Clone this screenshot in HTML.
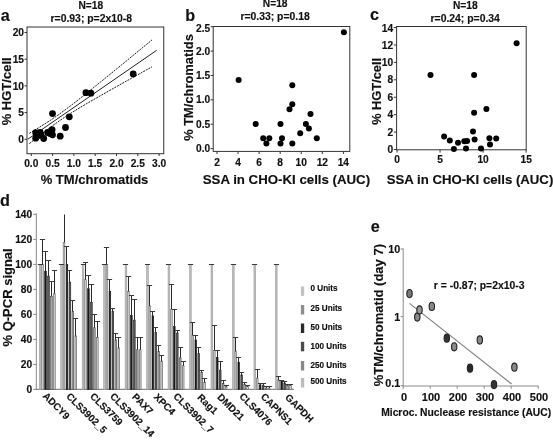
<!DOCTYPE html>
<html><head><meta charset="utf-8"><title>Figure</title>
<style>html,body{margin:0;padding:0;background:#fff;}svg{display:block;}text{font-family:"Liberation Sans",sans-serif;font-weight:bold;fill:#111;stroke:#111;stroke-width:0.15px;}</style></head><body>
<svg width="553" height="440" viewBox="0 0 553 440">
<rect width="553" height="440" fill="#fff"/>
<g id="panel-a">
<text x="0.80" y="20.70" font-size="16.2" text-anchor="start" >a</text>
<text x="90.80" y="8.60" font-size="10.2" text-anchor="middle" >N=18</text>
<text x="91.30" y="21.60" font-size="10.4" text-anchor="middle" >r=0.93; p=2x10-8</text>
<rect x="27" y="27" width="136.75" height="126.7" fill="none" stroke="#333" stroke-width="1"/>
<line x1="24.50" y1="139.30" x2="27.00" y2="139.30" stroke="#333" stroke-width="1" />
<text x="24.00" y="142.90" font-size="10.2" text-anchor="end" >0</text>
<line x1="24.50" y1="112.60" x2="27.00" y2="112.60" stroke="#333" stroke-width="1" />
<text x="24.00" y="116.20" font-size="10.2" text-anchor="end" >5</text>
<line x1="24.50" y1="85.90" x2="27.00" y2="85.90" stroke="#333" stroke-width="1" />
<text x="24.00" y="89.50" font-size="10.2" text-anchor="end" >10</text>
<line x1="24.50" y1="59.20" x2="27.00" y2="59.20" stroke="#333" stroke-width="1" />
<text x="24.00" y="62.80" font-size="10.2" text-anchor="end" >15</text>
<line x1="24.50" y1="32.50" x2="27.00" y2="32.50" stroke="#333" stroke-width="1" />
<text x="24.00" y="36.10" font-size="10.2" text-anchor="end" >20</text>
<line x1="31.30" y1="153.70" x2="31.30" y2="156.00" stroke="#333" stroke-width="1" />
<text x="31.30" y="166.50" font-size="10.2" text-anchor="middle" >0.0</text>
<line x1="52.60" y1="153.70" x2="52.60" y2="156.00" stroke="#333" stroke-width="1" />
<text x="52.60" y="166.50" font-size="10.2" text-anchor="middle" >0.5</text>
<line x1="73.90" y1="153.70" x2="73.90" y2="156.00" stroke="#333" stroke-width="1" />
<text x="73.90" y="166.50" font-size="10.2" text-anchor="middle" >1.0</text>
<line x1="95.20" y1="153.70" x2="95.20" y2="156.00" stroke="#333" stroke-width="1" />
<text x="95.20" y="166.50" font-size="10.2" text-anchor="middle" >1.5</text>
<line x1="116.50" y1="153.70" x2="116.50" y2="156.00" stroke="#333" stroke-width="1" />
<text x="116.50" y="166.50" font-size="10.2" text-anchor="middle" >2.0</text>
<line x1="137.80" y1="153.70" x2="137.80" y2="156.00" stroke="#333" stroke-width="1" />
<text x="137.80" y="166.50" font-size="10.2" text-anchor="middle" >2.5</text>
<line x1="159.10" y1="153.70" x2="159.10" y2="156.00" stroke="#333" stroke-width="1" />
<text x="159.10" y="166.50" font-size="10.2" text-anchor="middle" >3.0</text>
<text x="94.50" y="184.30" font-size="13" text-anchor="middle" >% TM/chromatids</text>
<text transform="translate(11.20,91.35) rotate(-90)" font-size="13" text-anchor="middle" >% HGT/cell</text>
<line x1="28.00" y1="139.08" x2="156.60" y2="50.35" stroke="#222" stroke-width="1" />
<polyline points="29.30,133.38 34.41,130.33 39.52,127.21 44.64,124.01 49.75,120.70 54.86,117.24 59.98,113.65 65.09,109.92 70.20,106.07 75.31,102.13 80.42,98.13 85.54,94.07 90.65,89.99 95.76,85.87 100.88,81.74 105.99,77.59 111.10,73.43 116.21,69.26 121.32,65.08 126.44,60.90 131.55,56.71 136.66,52.52 141.78,48.32 146.89,44.12 152.00,39.92" fill="none" stroke="#1a1a1a" stroke-width="1" stroke-dasharray="2 1"/>
<polyline points="29.30,143.66 34.41,139.59 39.52,135.57 44.64,131.62 49.75,127.76 54.86,124.02 59.98,120.42 65.09,116.96 70.20,113.65 75.31,110.45 80.42,107.35 85.54,104.31 90.65,101.33 95.76,98.38 100.88,95.45 105.99,92.55 111.10,89.66 116.21,86.79 121.32,83.92 126.44,81.06 131.55,78.21 136.66,75.36 141.78,72.52 146.89,69.68 152.00,66.84" fill="none" stroke="#1a1a1a" stroke-width="1" stroke-dasharray="2 1"/>
<circle cx="35.70" cy="132.70" r="3.4" fill="#000"/>
<circle cx="35.70" cy="138.20" r="3.4" fill="#000"/>
<circle cx="40.20" cy="132.50" r="3.4" fill="#000"/>
<circle cx="43.70" cy="138.50" r="3.4" fill="#000"/>
<circle cx="38.20" cy="135.50" r="3.4" fill="#000"/>
<circle cx="47.70" cy="132.50" r="3.4" fill="#000"/>
<circle cx="52.50" cy="113.60" r="3.4" fill="#000"/>
<circle cx="52.10" cy="129.70" r="3.4" fill="#000"/>
<circle cx="52.50" cy="134.80" r="3.4" fill="#000"/>
<circle cx="60.20" cy="136.20" r="3.4" fill="#000"/>
<circle cx="65.50" cy="127.50" r="3.4" fill="#000"/>
<circle cx="69.30" cy="116.80" r="3.4" fill="#000"/>
<circle cx="85.90" cy="92.70" r="3.4" fill="#000"/>
<circle cx="90.90" cy="93.20" r="3.4" fill="#000"/>
<circle cx="133.20" cy="73.90" r="3.4" fill="#000"/>
<circle cx="37.00" cy="134.00" r="3.4" fill="#000"/>
<circle cx="50.00" cy="133.50" r="3.4" fill="#000"/>
<circle cx="41.00" cy="135.00" r="3.4" fill="#000"/>
</g>
<g id="panel-b">
<text x="185.20" y="20.60" font-size="16.2" text-anchor="start" >b</text>
<text x="275.15" y="7.40" font-size="10.2" text-anchor="middle" >N=18</text>
<text x="275.10" y="20.40" font-size="10.4" text-anchor="middle" >r=0.33; p=0.18</text>
<rect x="213.2" y="26.5" width="136.6" height="124.9" fill="none" stroke="#333" stroke-width="1"/>
<line x1="210.60" y1="148.60" x2="213.20" y2="148.60" stroke="#333" stroke-width="1" />
<text x="210.20" y="152.20" font-size="10.2" text-anchor="end" >0.0</text>
<line x1="210.60" y1="124.22" x2="213.20" y2="124.22" stroke="#333" stroke-width="1" />
<text x="210.20" y="127.82" font-size="10.2" text-anchor="end" >0.5</text>
<line x1="210.60" y1="99.85" x2="213.20" y2="99.85" stroke="#333" stroke-width="1" />
<text x="210.20" y="103.45" font-size="10.2" text-anchor="end" >1.0</text>
<line x1="210.60" y1="75.47" x2="213.20" y2="75.47" stroke="#333" stroke-width="1" />
<text x="210.20" y="79.07" font-size="10.2" text-anchor="end" >1.5</text>
<line x1="210.60" y1="51.10" x2="213.20" y2="51.10" stroke="#333" stroke-width="1" />
<text x="210.20" y="54.70" font-size="10.2" text-anchor="end" >2.0</text>
<line x1="210.60" y1="26.72" x2="213.20" y2="26.72" stroke="#333" stroke-width="1" />
<text x="210.20" y="31.82" font-size="10.2" text-anchor="end" >2.5</text>
<line x1="217.00" y1="151.40" x2="217.00" y2="154.00" stroke="#333" stroke-width="1" />
<text x="217.00" y="166.00" font-size="10.2" text-anchor="middle" >2</text>
<line x1="238.06" y1="151.40" x2="238.06" y2="154.00" stroke="#333" stroke-width="1" />
<text x="238.06" y="166.00" font-size="10.2" text-anchor="middle" >4</text>
<line x1="259.12" y1="151.40" x2="259.12" y2="154.00" stroke="#333" stroke-width="1" />
<text x="259.12" y="166.00" font-size="10.2" text-anchor="middle" >6</text>
<line x1="280.18" y1="151.40" x2="280.18" y2="154.00" stroke="#333" stroke-width="1" />
<text x="280.18" y="166.00" font-size="10.2" text-anchor="middle" >8</text>
<line x1="301.24" y1="151.40" x2="301.24" y2="154.00" stroke="#333" stroke-width="1" />
<text x="301.24" y="166.00" font-size="10.2" text-anchor="middle" >10</text>
<line x1="322.30" y1="151.40" x2="322.30" y2="154.00" stroke="#333" stroke-width="1" />
<text x="322.30" y="166.00" font-size="10.2" text-anchor="middle" >12</text>
<line x1="343.36" y1="151.40" x2="343.36" y2="154.00" stroke="#333" stroke-width="1" />
<text x="343.36" y="166.00" font-size="10.2" text-anchor="middle" >14</text>
<text x="286.40" y="184.30" font-size="13.25" text-anchor="middle" >SSA in CHO-KI cells (AUC)</text>
<text transform="translate(192.80,87.50) rotate(-90)" font-size="12.9" text-anchor="middle" >% TM/chromatids</text>
<circle cx="238.60" cy="80.00" r="3.0" fill="#000"/>
<circle cx="255.70" cy="124.10" r="3.0" fill="#000"/>
<circle cx="263.20" cy="138.20" r="3.0" fill="#000"/>
<circle cx="269.30" cy="138.20" r="3.0" fill="#000"/>
<circle cx="266.40" cy="143.40" r="3.0" fill="#000"/>
<circle cx="343.90" cy="32.30" r="3.0" fill="#000"/>
<circle cx="292.30" cy="85.20" r="3.0" fill="#000"/>
<circle cx="292.30" cy="104.30" r="3.0" fill="#000"/>
<circle cx="289.50" cy="109.30" r="3.0" fill="#000"/>
<circle cx="310.50" cy="113.90" r="3.0" fill="#000"/>
<circle cx="280.50" cy="124.10" r="3.0" fill="#000"/>
<circle cx="305.90" cy="124.10" r="3.0" fill="#000"/>
<circle cx="308.90" cy="128.60" r="3.0" fill="#000"/>
<circle cx="300.20" cy="133.20" r="3.0" fill="#000"/>
<circle cx="282.00" cy="138.20" r="3.0" fill="#000"/>
<circle cx="316.80" cy="138.20" r="3.0" fill="#000"/>
<circle cx="280.50" cy="143.40" r="3.0" fill="#000"/>
<circle cx="292.30" cy="143.40" r="3.0" fill="#000"/>
</g>
<g id="panel-c">
<text x="370.00" y="20.20" font-size="16.2" text-anchor="start" >c</text>
<text x="465.30" y="8.60" font-size="10.2" text-anchor="middle" >N=18</text>
<text x="465.20" y="21.60" font-size="10.4" text-anchor="middle" >r=0.24; p=0.34</text>
<rect x="396.6" y="26.5" width="129.6" height="123.3" fill="none" stroke="#333" stroke-width="1"/>
<line x1="393.80" y1="149.50" x2="396.60" y2="149.50" stroke="#333" stroke-width="1" />
<text x="393.20" y="153.10" font-size="10.2" text-anchor="end" >0</text>
<line x1="393.80" y1="132.08" x2="396.60" y2="132.08" stroke="#333" stroke-width="1" />
<text x="393.20" y="135.68" font-size="10.2" text-anchor="end" >2</text>
<line x1="393.80" y1="114.66" x2="396.60" y2="114.66" stroke="#333" stroke-width="1" />
<text x="393.20" y="118.26" font-size="10.2" text-anchor="end" >4</text>
<line x1="393.80" y1="97.24" x2="396.60" y2="97.24" stroke="#333" stroke-width="1" />
<text x="393.20" y="100.84" font-size="10.2" text-anchor="end" >6</text>
<line x1="393.80" y1="79.82" x2="396.60" y2="79.82" stroke="#333" stroke-width="1" />
<text x="393.20" y="83.42" font-size="10.2" text-anchor="end" >8</text>
<line x1="393.80" y1="62.40" x2="396.60" y2="62.40" stroke="#333" stroke-width="1" />
<text x="393.20" y="66.00" font-size="10.2" text-anchor="end" >10</text>
<line x1="393.80" y1="44.98" x2="396.60" y2="44.98" stroke="#333" stroke-width="1" />
<text x="393.20" y="48.58" font-size="10.2" text-anchor="end" >12</text>
<line x1="393.80" y1="27.56" x2="396.60" y2="27.56" stroke="#333" stroke-width="1" />
<text x="393.20" y="32.06" font-size="10.2" text-anchor="end" >14</text>
<line x1="397.00" y1="149.80" x2="397.00" y2="152.60" stroke="#333" stroke-width="1" />
<text x="397.00" y="163.40" font-size="10.2" text-anchor="middle" >0</text>
<line x1="440.05" y1="149.80" x2="440.05" y2="152.60" stroke="#333" stroke-width="1" />
<text x="440.05" y="163.40" font-size="10.2" text-anchor="middle" >5</text>
<line x1="483.10" y1="149.80" x2="483.10" y2="152.60" stroke="#333" stroke-width="1" />
<text x="483.10" y="163.40" font-size="10.2" text-anchor="middle" >10</text>
<line x1="526.15" y1="149.80" x2="526.15" y2="152.60" stroke="#333" stroke-width="1" />
<text x="526.15" y="163.40" font-size="10.2" text-anchor="middle" >15</text>
<text x="470.00" y="183.50" font-size="13.2" text-anchor="middle" >SSA in CHO-KI cells (AUC)</text>
<text transform="translate(380.60,91.40) rotate(-90)" font-size="12.8" text-anchor="middle" >% HGT/cell</text>
<circle cx="430.50" cy="75.00" r="3.0" fill="#000"/>
<circle cx="444.10" cy="136.60" r="3.0" fill="#000"/>
<circle cx="449.80" cy="140.50" r="3.0" fill="#000"/>
<circle cx="458.00" cy="142.70" r="3.0" fill="#000"/>
<circle cx="453.90" cy="149.10" r="3.0" fill="#000"/>
<circle cx="516.60" cy="43.20" r="3.0" fill="#000"/>
<circle cx="474.10" cy="75.00" r="3.0" fill="#000"/>
<circle cx="486.40" cy="108.90" r="3.0" fill="#000"/>
<circle cx="474.10" cy="112.70" r="3.0" fill="#000"/>
<circle cx="473.00" cy="131.60" r="3.0" fill="#000"/>
<circle cx="474.60" cy="139.50" r="3.0" fill="#000"/>
<circle cx="467.10" cy="141.10" r="3.0" fill="#000"/>
<circle cx="489.40" cy="138.20" r="3.0" fill="#000"/>
<circle cx="496.20" cy="138.40" r="3.0" fill="#000"/>
<circle cx="490.00" cy="144.50" r="3.0" fill="#000"/>
<circle cx="466.00" cy="148.60" r="3.0" fill="#000"/>
<circle cx="481.00" cy="148.60" r="3.0" fill="#000"/>
<circle cx="464.30" cy="141.30" r="3.0" fill="#000"/>
</g>
<g id="panel-d">
<text x="0.10" y="205.60" font-size="16.2" text-anchor="start" >d</text>
<line x1="36.30" y1="213.20" x2="36.30" y2="389.70" stroke="#8a8a8a" stroke-width="1" />
<line x1="35.80" y1="389.40" x2="294.00" y2="389.40" stroke="#8a8a8a" stroke-width="1.1" />
<line x1="33.20" y1="389.45" x2="36.30" y2="389.45" stroke="#8a8a8a" stroke-width="1" />
<text x="32.20" y="393.05" font-size="10.2" text-anchor="end" >0</text>
<line x1="33.20" y1="364.44" x2="36.30" y2="364.44" stroke="#8a8a8a" stroke-width="1" />
<text x="32.20" y="368.04" font-size="10.2" text-anchor="end" >20</text>
<line x1="33.20" y1="339.43" x2="36.30" y2="339.43" stroke="#8a8a8a" stroke-width="1" />
<text x="32.20" y="343.03" font-size="10.2" text-anchor="end" >40</text>
<line x1="33.20" y1="314.42" x2="36.30" y2="314.42" stroke="#8a8a8a" stroke-width="1" />
<text x="32.20" y="318.02" font-size="10.2" text-anchor="end" >60</text>
<line x1="33.20" y1="289.41" x2="36.30" y2="289.41" stroke="#8a8a8a" stroke-width="1" />
<text x="32.20" y="293.01" font-size="10.2" text-anchor="end" >80</text>
<line x1="33.20" y1="264.40" x2="36.30" y2="264.40" stroke="#8a8a8a" stroke-width="1" />
<text x="32.20" y="268.00" font-size="10.2" text-anchor="end" >100</text>
<line x1="33.20" y1="239.39" x2="36.30" y2="239.39" stroke="#8a8a8a" stroke-width="1" />
<text x="32.20" y="242.99" font-size="10.2" text-anchor="end" >120</text>
<line x1="33.20" y1="214.38" x2="36.30" y2="214.38" stroke="#8a8a8a" stroke-width="1" />
<text x="32.20" y="217.98" font-size="10.2" text-anchor="end" >140</text>
<text transform="translate(11.80,297.40) rotate(-90)" font-size="13" text-anchor="middle" >% Q-PCR signal</text>
<rect x="39.25" y="264.40" width="1.7" height="125.00" fill="#bcbcbc" stroke="#a0a0a0" stroke-width="0.6"/>
<rect x="41.70" y="264.40" width="1.7" height="125.00" fill="#cacaca" stroke="#6a6a6a" stroke-width="0.6"/>
<rect x="44.70" y="271.16" width="1.6" height="118.24" fill="#1c1c1c" stroke="#111" stroke-width="0.6"/>
<rect x="47.60" y="276.19" width="1.7" height="113.21" fill="#5a5a5a" stroke="#222" stroke-width="0.6"/>
<rect x="50.55" y="296.28" width="1.7" height="93.12" fill="#acacac" stroke="#444" stroke-width="0.6"/>
<rect x="53.50" y="293.77" width="1.7" height="95.63" fill="#d4d4d4" stroke="#555" stroke-width="0.6"/>
<line x1="37.90" y1="264.50" x2="43.10" y2="264.50" stroke="#3a3a3a" stroke-width="1.0" />
<line x1="42.50" y1="239.50" x2="42.50" y2="264.40" stroke="#2a2a2a" stroke-width="1.0" />
<line x1="39.90" y1="239.50" x2="45.10" y2="239.50" stroke="#3a3a3a" stroke-width="1.0" />
<line x1="45.50" y1="251.50" x2="45.50" y2="271.16" stroke="#2a2a2a" stroke-width="1.0" />
<line x1="42.90" y1="251.50" x2="48.10" y2="251.50" stroke="#3a3a3a" stroke-width="1.0" />
<line x1="48.50" y1="260.50" x2="48.50" y2="276.19" stroke="#2a2a2a" stroke-width="1.0" />
<line x1="45.90" y1="260.50" x2="51.10" y2="260.50" stroke="#3a3a3a" stroke-width="1.0" />
<line x1="51.50" y1="281.50" x2="51.50" y2="296.28" stroke="#2a2a2a" stroke-width="1.0" />
<line x1="48.90" y1="281.50" x2="54.10" y2="281.50" stroke="#3a3a3a" stroke-width="1.0" />
<line x1="54.50" y1="270.50" x2="54.50" y2="293.77" stroke="#2a2a2a" stroke-width="1.0" />
<line x1="51.90" y1="270.50" x2="57.10" y2="270.50" stroke="#3a3a3a" stroke-width="1.0" />
<text transform="translate(42.20,396.60) rotate(45)" font-size="9.8" text-anchor="start">ADCY9</text>
<rect x="60.72" y="264.40" width="1.7" height="125.00" fill="#bcbcbc" stroke="#a0a0a0" stroke-width="0.6"/>
<rect x="63.17" y="242.28" width="1.7" height="147.12" fill="#cacaca" stroke="#6a6a6a" stroke-width="0.6"/>
<rect x="66.17" y="264.40" width="1.6" height="125.00" fill="#1c1c1c" stroke="#111" stroke-width="0.6"/>
<rect x="69.07" y="282.09" width="1.7" height="107.31" fill="#5a5a5a" stroke="#222" stroke-width="0.6"/>
<rect x="72.02" y="311.35" width="1.7" height="78.05" fill="#acacac" stroke="#444" stroke-width="0.6"/>
<rect x="74.97" y="335.83" width="1.7" height="53.57" fill="#d4d4d4" stroke="#555" stroke-width="0.6"/>
<line x1="58.90" y1="264.50" x2="64.10" y2="264.50" stroke="#3a3a3a" stroke-width="1.0" />
<line x1="64.50" y1="214.50" x2="64.50" y2="242.28" stroke="#2a2a2a" stroke-width="1.0" />
<line x1="66.50" y1="246.50" x2="66.50" y2="264.40" stroke="#2a2a2a" stroke-width="1.0" />
<line x1="63.90" y1="246.50" x2="69.10" y2="246.50" stroke="#3a3a3a" stroke-width="1.0" />
<line x1="69.50" y1="270.50" x2="69.50" y2="282.09" stroke="#2a2a2a" stroke-width="1.0" />
<line x1="66.90" y1="270.50" x2="72.10" y2="270.50" stroke="#3a3a3a" stroke-width="1.0" />
<line x1="72.50" y1="300.50" x2="72.50" y2="311.35" stroke="#2a2a2a" stroke-width="1.0" />
<line x1="69.90" y1="300.50" x2="75.10" y2="300.50" stroke="#3a3a3a" stroke-width="1.0" />
<line x1="75.50" y1="318.50" x2="75.50" y2="335.83" stroke="#2a2a2a" stroke-width="1.0" />
<line x1="72.90" y1="318.50" x2="78.10" y2="318.50" stroke="#3a3a3a" stroke-width="1.0" />
<text transform="translate(65.77,396.90) rotate(45)" font-size="9.8" text-anchor="start">CLS3902_5</text>
<rect x="82.19" y="264.40" width="1.7" height="125.00" fill="#bcbcbc" stroke="#a0a0a0" stroke-width="0.6"/>
<rect x="84.64" y="279.70" width="1.7" height="109.70" fill="#cacaca" stroke="#6a6a6a" stroke-width="0.6"/>
<rect x="87.64" y="288.74" width="1.6" height="100.66" fill="#1c1c1c" stroke="#111" stroke-width="0.6"/>
<rect x="90.54" y="302.68" width="1.7" height="86.72" fill="#5a5a5a" stroke="#222" stroke-width="0.6"/>
<rect x="93.49" y="327.80" width="1.7" height="61.60" fill="#acacac" stroke="#444" stroke-width="0.6"/>
<rect x="96.44" y="337.34" width="1.7" height="52.06" fill="#d4d4d4" stroke="#555" stroke-width="0.6"/>
<line x1="80.90" y1="264.50" x2="86.10" y2="264.50" stroke="#3a3a3a" stroke-width="1.0" />
<line x1="85.50" y1="262.50" x2="85.50" y2="279.70" stroke="#2a2a2a" stroke-width="1.0" />
<line x1="82.90" y1="262.50" x2="88.10" y2="262.50" stroke="#3a3a3a" stroke-width="1.0" />
<line x1="88.50" y1="275.50" x2="88.50" y2="288.74" stroke="#2a2a2a" stroke-width="1.0" />
<line x1="85.90" y1="275.50" x2="91.10" y2="275.50" stroke="#3a3a3a" stroke-width="1.0" />
<line x1="91.50" y1="284.50" x2="91.50" y2="302.68" stroke="#2a2a2a" stroke-width="1.0" />
<line x1="88.90" y1="284.50" x2="94.10" y2="284.50" stroke="#3a3a3a" stroke-width="1.0" />
<line x1="94.50" y1="314.50" x2="94.50" y2="327.80" stroke="#2a2a2a" stroke-width="1.0" />
<line x1="91.90" y1="314.50" x2="97.10" y2="314.50" stroke="#3a3a3a" stroke-width="1.0" />
<line x1="97.50" y1="321.50" x2="97.50" y2="337.34" stroke="#2a2a2a" stroke-width="1.0" />
<line x1="94.90" y1="321.50" x2="100.10" y2="321.50" stroke="#3a3a3a" stroke-width="1.0" />
<text transform="translate(89.44,396.90) rotate(45)" font-size="9.8" text-anchor="start">CLS3759</text>
<rect x="103.66" y="264.40" width="1.7" height="125.00" fill="#bcbcbc" stroke="#a0a0a0" stroke-width="0.6"/>
<rect x="106.11" y="264.40" width="1.7" height="125.00" fill="#cacaca" stroke="#6a6a6a" stroke-width="0.6"/>
<rect x="109.11" y="291.26" width="1.6" height="98.14" fill="#1c1c1c" stroke="#111" stroke-width="0.6"/>
<rect x="112.01" y="311.47" width="1.7" height="77.93" fill="#5a5a5a" stroke="#222" stroke-width="0.6"/>
<rect x="114.96" y="339.73" width="1.7" height="49.67" fill="#acacac" stroke="#444" stroke-width="0.6"/>
<rect x="117.91" y="347.76" width="1.7" height="41.64" fill="#d4d4d4" stroke="#555" stroke-width="0.6"/>
<line x1="101.90" y1="264.50" x2="107.10" y2="264.50" stroke="#3a3a3a" stroke-width="1.0" />
<line x1="106.50" y1="247.50" x2="106.50" y2="264.40" stroke="#2a2a2a" stroke-width="1.0" />
<line x1="103.90" y1="247.50" x2="109.10" y2="247.50" stroke="#3a3a3a" stroke-width="1.0" />
<line x1="109.50" y1="279.50" x2="109.50" y2="291.26" stroke="#2a2a2a" stroke-width="1.0" />
<line x1="106.90" y1="279.50" x2="112.10" y2="279.50" stroke="#3a3a3a" stroke-width="1.0" />
<line x1="112.50" y1="308.50" x2="112.50" y2="311.47" stroke="#2a2a2a" stroke-width="1.0" />
<line x1="109.90" y1="308.50" x2="115.10" y2="308.50" stroke="#3a3a3a" stroke-width="1.0" />
<line x1="115.50" y1="333.50" x2="115.50" y2="339.73" stroke="#2a2a2a" stroke-width="1.0" />
<line x1="112.90" y1="333.50" x2="118.10" y2="333.50" stroke="#3a3a3a" stroke-width="1.0" />
<line x1="118.50" y1="337.50" x2="118.50" y2="347.76" stroke="#2a2a2a" stroke-width="1.0" />
<line x1="115.90" y1="337.50" x2="121.10" y2="337.50" stroke="#3a3a3a" stroke-width="1.0" />
<text transform="translate(109.61,396.90) rotate(45)" font-size="9.8" text-anchor="start">CLS3902_14</text>
<rect x="125.13" y="264.40" width="1.7" height="125.00" fill="#bcbcbc" stroke="#a0a0a0" stroke-width="0.6"/>
<rect x="127.58" y="291.63" width="1.7" height="97.77" fill="#cacaca" stroke="#6a6a6a" stroke-width="0.6"/>
<rect x="130.58" y="315.36" width="1.6" height="74.04" fill="#1c1c1c" stroke="#111" stroke-width="0.6"/>
<rect x="133.48" y="320.14" width="1.7" height="69.26" fill="#5a5a5a" stroke="#222" stroke-width="0.6"/>
<rect x="136.43" y="349.77" width="1.7" height="39.63" fill="#acacac" stroke="#444" stroke-width="0.6"/>
<rect x="139.38" y="349.77" width="1.7" height="39.63" fill="#d4d4d4" stroke="#555" stroke-width="0.6"/>
<line x1="122.90" y1="264.50" x2="128.10" y2="264.50" stroke="#3a3a3a" stroke-width="1.0" />
<line x1="128.50" y1="276.50" x2="128.50" y2="291.63" stroke="#2a2a2a" stroke-width="1.0" />
<line x1="125.90" y1="276.50" x2="131.10" y2="276.50" stroke="#3a3a3a" stroke-width="1.0" />
<line x1="131.50" y1="295.50" x2="131.50" y2="315.36" stroke="#2a2a2a" stroke-width="1.0" />
<line x1="128.90" y1="295.50" x2="134.10" y2="295.50" stroke="#3a3a3a" stroke-width="1.0" />
<line x1="134.50" y1="299.50" x2="134.50" y2="320.14" stroke="#2a2a2a" stroke-width="1.0" />
<line x1="131.90" y1="299.50" x2="137.10" y2="299.50" stroke="#3a3a3a" stroke-width="1.0" />
<line x1="137.50" y1="337.50" x2="137.50" y2="349.77" stroke="#2a2a2a" stroke-width="1.0" />
<line x1="134.90" y1="337.50" x2="140.10" y2="337.50" stroke="#3a3a3a" stroke-width="1.0" />
<line x1="140.50" y1="337.50" x2="140.50" y2="349.77" stroke="#2a2a2a" stroke-width="1.0" />
<line x1="137.90" y1="337.50" x2="143.10" y2="337.50" stroke="#3a3a3a" stroke-width="1.0" />
<text transform="translate(131.58,397.50) rotate(45)" font-size="9.8" text-anchor="start">PAX7</text>
<rect x="146.60" y="264.40" width="1.7" height="125.00" fill="#bcbcbc" stroke="#a0a0a0" stroke-width="0.6"/>
<rect x="149.05" y="305.95" width="1.7" height="83.45" fill="#cacaca" stroke="#6a6a6a" stroke-width="0.6"/>
<rect x="152.05" y="315.74" width="1.6" height="73.66" fill="#1c1c1c" stroke="#111" stroke-width="0.6"/>
<rect x="154.95" y="332.32" width="1.7" height="57.08" fill="#5a5a5a" stroke="#222" stroke-width="0.6"/>
<rect x="157.90" y="351.53" width="1.7" height="37.87" fill="#acacac" stroke="#444" stroke-width="0.6"/>
<rect x="160.85" y="360.95" width="1.7" height="28.45" fill="#d4d4d4" stroke="#555" stroke-width="0.6"/>
<line x1="144.90" y1="264.50" x2="150.10" y2="264.50" stroke="#3a3a3a" stroke-width="1.0" />
<line x1="149.50" y1="285.50" x2="149.50" y2="305.95" stroke="#2a2a2a" stroke-width="1.0" />
<line x1="146.90" y1="285.50" x2="152.10" y2="285.50" stroke="#3a3a3a" stroke-width="1.0" />
<line x1="152.50" y1="311.50" x2="152.50" y2="315.74" stroke="#2a2a2a" stroke-width="1.0" />
<line x1="149.90" y1="311.50" x2="155.10" y2="311.50" stroke="#3a3a3a" stroke-width="1.0" />
<line x1="155.50" y1="327.50" x2="155.50" y2="332.32" stroke="#2a2a2a" stroke-width="1.0" />
<line x1="152.90" y1="327.50" x2="158.10" y2="327.50" stroke="#3a3a3a" stroke-width="1.0" />
<line x1="158.50" y1="345.50" x2="158.50" y2="351.53" stroke="#2a2a2a" stroke-width="1.0" />
<line x1="155.90" y1="345.50" x2="161.10" y2="345.50" stroke="#3a3a3a" stroke-width="1.0" />
<line x1="161.50" y1="355.50" x2="161.50" y2="360.95" stroke="#2a2a2a" stroke-width="1.0" />
<line x1="158.90" y1="355.50" x2="164.10" y2="355.50" stroke="#3a3a3a" stroke-width="1.0" />
<text transform="translate(153.15,397.60) rotate(45)" font-size="9.8" text-anchor="start">XPC4</text>
<rect x="168.07" y="264.40" width="1.7" height="125.00" fill="#bcbcbc" stroke="#a0a0a0" stroke-width="0.6"/>
<rect x="170.52" y="309.09" width="1.7" height="80.31" fill="#cacaca" stroke="#6a6a6a" stroke-width="0.6"/>
<rect x="173.52" y="326.67" width="1.6" height="62.73" fill="#1c1c1c" stroke="#111" stroke-width="0.6"/>
<rect x="176.42" y="333.07" width="1.7" height="56.33" fill="#5a5a5a" stroke="#222" stroke-width="0.6"/>
<rect x="179.37" y="357.81" width="1.7" height="31.59" fill="#acacac" stroke="#444" stroke-width="0.6"/>
<rect x="182.32" y="365.72" width="1.7" height="23.68" fill="#d4d4d4" stroke="#555" stroke-width="0.6"/>
<line x1="165.90" y1="264.50" x2="171.10" y2="264.50" stroke="#3a3a3a" stroke-width="1.0" />
<line x1="171.50" y1="284.50" x2="171.50" y2="309.09" stroke="#2a2a2a" stroke-width="1.0" />
<line x1="168.90" y1="284.50" x2="174.10" y2="284.50" stroke="#3a3a3a" stroke-width="1.0" />
<line x1="174.50" y1="309.50" x2="174.50" y2="326.67" stroke="#2a2a2a" stroke-width="1.0" />
<line x1="171.90" y1="309.50" x2="177.10" y2="309.50" stroke="#3a3a3a" stroke-width="1.0" />
<line x1="177.50" y1="330.50" x2="177.50" y2="333.07" stroke="#2a2a2a" stroke-width="1.0" />
<line x1="174.90" y1="330.50" x2="180.10" y2="330.50" stroke="#3a3a3a" stroke-width="1.0" />
<line x1="180.50" y1="347.50" x2="180.50" y2="357.81" stroke="#2a2a2a" stroke-width="1.0" />
<line x1="177.90" y1="347.50" x2="183.10" y2="347.50" stroke="#3a3a3a" stroke-width="1.0" />
<line x1="183.50" y1="361.50" x2="183.50" y2="365.72" stroke="#2a2a2a" stroke-width="1.0" />
<line x1="180.90" y1="361.50" x2="186.10" y2="361.50" stroke="#3a3a3a" stroke-width="1.0" />
<text transform="translate(172.72,396.90) rotate(45)" font-size="9.8" text-anchor="start">CLS3902_7</text>
<rect x="189.54" y="264.40" width="1.7" height="125.00" fill="#bcbcbc" stroke="#a0a0a0" stroke-width="0.6"/>
<rect x="191.99" y="335.08" width="1.7" height="54.32" fill="#cacaca" stroke="#6a6a6a" stroke-width="0.6"/>
<rect x="194.99" y="339.85" width="1.6" height="49.55" fill="#1c1c1c" stroke="#111" stroke-width="0.6"/>
<rect x="197.89" y="353.66" width="1.7" height="35.74" fill="#5a5a5a" stroke="#222" stroke-width="0.6"/>
<rect x="200.84" y="372.50" width="1.7" height="16.90" fill="#acacac" stroke="#444" stroke-width="0.6"/>
<rect x="203.79" y="382.17" width="1.7" height="7.23" fill="#d4d4d4" stroke="#555" stroke-width="0.6"/>
<line x1="187.90" y1="264.50" x2="193.10" y2="264.50" stroke="#3a3a3a" stroke-width="1.0" />
<line x1="192.50" y1="322.50" x2="192.50" y2="335.08" stroke="#2a2a2a" stroke-width="1.0" />
<line x1="189.90" y1="322.50" x2="195.10" y2="322.50" stroke="#3a3a3a" stroke-width="1.0" />
<line x1="195.50" y1="335.50" x2="195.50" y2="339.85" stroke="#2a2a2a" stroke-width="1.0" />
<line x1="192.90" y1="335.50" x2="198.10" y2="335.50" stroke="#3a3a3a" stroke-width="1.0" />
<line x1="198.50" y1="347.50" x2="198.50" y2="353.66" stroke="#2a2a2a" stroke-width="1.0" />
<line x1="195.90" y1="347.50" x2="201.10" y2="347.50" stroke="#3a3a3a" stroke-width="1.0" />
<line x1="201.50" y1="370.50" x2="201.50" y2="372.50" stroke="#2a2a2a" stroke-width="1.0" />
<line x1="198.90" y1="370.50" x2="204.10" y2="370.50" stroke="#3a3a3a" stroke-width="1.0" />
<line x1="204.50" y1="378.50" x2="204.50" y2="382.17" stroke="#2a2a2a" stroke-width="1.0" />
<line x1="201.90" y1="378.50" x2="207.10" y2="378.50" stroke="#3a3a3a" stroke-width="1.0" />
<text transform="translate(196.79,398.00) rotate(45)" font-size="9.8" text-anchor="start">Rag1</text>
<rect x="211.01" y="264.40" width="1.7" height="125.00" fill="#bcbcbc" stroke="#a0a0a0" stroke-width="0.6"/>
<rect x="213.46" y="350.27" width="1.7" height="39.13" fill="#cacaca" stroke="#6a6a6a" stroke-width="0.6"/>
<rect x="216.46" y="357.43" width="1.6" height="31.97" fill="#1c1c1c" stroke="#111" stroke-width="0.6"/>
<rect x="219.36" y="370.11" width="1.7" height="19.29" fill="#5a5a5a" stroke="#222" stroke-width="0.6"/>
<rect x="222.31" y="383.55" width="1.7" height="5.85" fill="#acacac" stroke="#444" stroke-width="0.6"/>
<rect x="225.26" y="386.69" width="1.7" height="2.71" fill="#d4d4d4" stroke="#555" stroke-width="0.6"/>
<line x1="208.90" y1="264.50" x2="214.10" y2="264.50" stroke="#3a3a3a" stroke-width="1.0" />
<line x1="214.50" y1="325.50" x2="214.50" y2="350.27" stroke="#2a2a2a" stroke-width="1.0" />
<line x1="211.90" y1="325.50" x2="217.10" y2="325.50" stroke="#3a3a3a" stroke-width="1.0" />
<line x1="217.50" y1="350.50" x2="217.50" y2="357.43" stroke="#2a2a2a" stroke-width="1.0" />
<line x1="214.90" y1="350.50" x2="220.10" y2="350.50" stroke="#3a3a3a" stroke-width="1.0" />
<line x1="220.50" y1="361.50" x2="220.50" y2="370.11" stroke="#2a2a2a" stroke-width="1.0" />
<line x1="217.90" y1="361.50" x2="223.10" y2="361.50" stroke="#3a3a3a" stroke-width="1.0" />
<line x1="223.50" y1="380.50" x2="223.50" y2="383.55" stroke="#2a2a2a" stroke-width="1.0" />
<line x1="220.90" y1="380.50" x2="226.10" y2="380.50" stroke="#3a3a3a" stroke-width="1.0" />
<line x1="226.50" y1="385.50" x2="226.50" y2="386.69" stroke="#2a2a2a" stroke-width="1.0" />
<line x1="223.90" y1="385.50" x2="229.10" y2="385.50" stroke="#3a3a3a" stroke-width="1.0" />
<text transform="translate(216.76,397.70) rotate(45)" font-size="9.8" text-anchor="start">DMD21</text>
<rect x="232.48" y="264.40" width="1.7" height="125.00" fill="#bcbcbc" stroke="#a0a0a0" stroke-width="0.6"/>
<rect x="234.93" y="351.03" width="1.7" height="38.37" fill="#cacaca" stroke="#6a6a6a" stroke-width="0.6"/>
<rect x="237.93" y="362.20" width="1.6" height="27.20" fill="#1c1c1c" stroke="#111" stroke-width="0.6"/>
<rect x="240.83" y="374.89" width="1.7" height="14.51" fill="#5a5a5a" stroke="#222" stroke-width="0.6"/>
<rect x="243.78" y="384.18" width="1.7" height="5.22" fill="#acacac" stroke="#444" stroke-width="0.6"/>
<rect x="246.73" y="386.69" width="1.7" height="2.71" fill="#d4d4d4" stroke="#555" stroke-width="0.6"/>
<line x1="230.90" y1="264.50" x2="236.10" y2="264.50" stroke="#3a3a3a" stroke-width="1.0" />
<line x1="235.50" y1="337.50" x2="235.50" y2="351.03" stroke="#2a2a2a" stroke-width="1.0" />
<line x1="232.90" y1="337.50" x2="238.10" y2="337.50" stroke="#3a3a3a" stroke-width="1.0" />
<line x1="238.50" y1="357.50" x2="238.50" y2="362.20" stroke="#2a2a2a" stroke-width="1.0" />
<line x1="235.90" y1="357.50" x2="241.10" y2="357.50" stroke="#3a3a3a" stroke-width="1.0" />
<line x1="241.50" y1="372.50" x2="241.50" y2="374.89" stroke="#2a2a2a" stroke-width="1.0" />
<line x1="238.90" y1="372.50" x2="244.10" y2="372.50" stroke="#3a3a3a" stroke-width="1.0" />
<line x1="244.50" y1="382.50" x2="244.50" y2="384.18" stroke="#2a2a2a" stroke-width="1.0" />
<line x1="241.90" y1="382.50" x2="247.10" y2="382.50" stroke="#3a3a3a" stroke-width="1.0" />
<line x1="247.50" y1="385.50" x2="247.50" y2="386.69" stroke="#2a2a2a" stroke-width="1.0" />
<line x1="244.90" y1="385.50" x2="250.10" y2="385.50" stroke="#3a3a3a" stroke-width="1.0" />
<text transform="translate(238.83,396.90) rotate(45)" font-size="9.8" text-anchor="start">CLS4076</text>
<rect x="253.95" y="264.40" width="1.7" height="125.00" fill="#bcbcbc" stroke="#a0a0a0" stroke-width="0.6"/>
<rect x="256.40" y="378.15" width="1.7" height="11.25" fill="#cacaca" stroke="#6a6a6a" stroke-width="0.6"/>
<rect x="259.40" y="384.81" width="1.6" height="4.59" fill="#1c1c1c" stroke="#111" stroke-width="0.6"/>
<rect x="262.30" y="385.18" width="1.7" height="4.22" fill="#5a5a5a" stroke="#222" stroke-width="0.6"/>
<rect x="265.25" y="387.94" width="1.7" height="1.46" fill="#acacac" stroke="#444" stroke-width="0.6"/>
<rect x="268.20" y="387.94" width="1.7" height="1.46" fill="#d4d4d4" stroke="#555" stroke-width="0.6"/>
<line x1="251.90" y1="264.50" x2="257.10" y2="264.50" stroke="#3a3a3a" stroke-width="1.0" />
<line x1="257.50" y1="369.50" x2="257.50" y2="378.15" stroke="#2a2a2a" stroke-width="1.0" />
<line x1="254.90" y1="369.50" x2="260.10" y2="369.50" stroke="#3a3a3a" stroke-width="1.0" />
<line x1="260.50" y1="383.50" x2="260.50" y2="384.81" stroke="#2a2a2a" stroke-width="1.0" />
<line x1="257.90" y1="383.50" x2="263.10" y2="383.50" stroke="#3a3a3a" stroke-width="1.0" />
<line x1="263.50" y1="383.50" x2="263.50" y2="385.18" stroke="#2a2a2a" stroke-width="1.0" />
<line x1="260.90" y1="383.50" x2="266.10" y2="383.50" stroke="#3a3a3a" stroke-width="1.0" />
<line x1="266.50" y1="386.50" x2="266.50" y2="387.94" stroke="#2a2a2a" stroke-width="1.0" />
<line x1="263.90" y1="386.50" x2="269.10" y2="386.50" stroke="#3a3a3a" stroke-width="1.0" />
<line x1="269.50" y1="386.50" x2="269.50" y2="387.94" stroke="#2a2a2a" stroke-width="1.0" />
<line x1="266.90" y1="386.50" x2="272.10" y2="386.50" stroke="#3a3a3a" stroke-width="1.0" />
<text transform="translate(260.30,397.20) rotate(45)" font-size="9.8" text-anchor="start">CAPNS1</text>
<rect x="275.42" y="264.40" width="1.7" height="125.00" fill="#bcbcbc" stroke="#a0a0a0" stroke-width="0.6"/>
<rect x="277.87" y="380.03" width="1.7" height="9.37" fill="#cacaca" stroke="#6a6a6a" stroke-width="0.6"/>
<rect x="280.87" y="381.29" width="1.6" height="8.11" fill="#1c1c1c" stroke="#111" stroke-width="0.6"/>
<rect x="283.77" y="382.92" width="1.7" height="6.48" fill="#5a5a5a" stroke="#222" stroke-width="0.6"/>
<rect x="286.72" y="385.43" width="1.7" height="3.97" fill="#acacac" stroke="#444" stroke-width="0.6"/>
<rect x="289.67" y="385.43" width="1.7" height="3.97" fill="#d4d4d4" stroke="#555" stroke-width="0.6"/>
<line x1="273.90" y1="264.50" x2="279.10" y2="264.50" stroke="#3a3a3a" stroke-width="1.0" />
<line x1="278.50" y1="376.50" x2="278.50" y2="380.03" stroke="#2a2a2a" stroke-width="1.0" />
<line x1="275.90" y1="376.50" x2="281.10" y2="376.50" stroke="#3a3a3a" stroke-width="1.0" />
<line x1="281.50" y1="380.50" x2="281.50" y2="381.29" stroke="#2a2a2a" stroke-width="1.0" />
<line x1="278.90" y1="380.50" x2="284.10" y2="380.50" stroke="#3a3a3a" stroke-width="1.0" />
<line x1="284.50" y1="381.50" x2="284.50" y2="382.92" stroke="#2a2a2a" stroke-width="1.0" />
<line x1="281.90" y1="381.50" x2="287.10" y2="381.50" stroke="#3a3a3a" stroke-width="1.0" />
<line x1="287.50" y1="384.50" x2="287.50" y2="385.43" stroke="#2a2a2a" stroke-width="1.0" />
<line x1="284.90" y1="384.50" x2="290.10" y2="384.50" stroke="#3a3a3a" stroke-width="1.0" />
<line x1="290.50" y1="384.50" x2="290.50" y2="385.43" stroke="#2a2a2a" stroke-width="1.0" />
<line x1="287.90" y1="384.50" x2="293.10" y2="384.50" stroke="#3a3a3a" stroke-width="1.0" />
<text transform="translate(284.57,398.00) rotate(45)" font-size="9.8" text-anchor="start">GAPDH</text>
<rect x="300.9" y="286.40" width="3.3" height="9.5" fill="#c2c2c2"/>
<text x="310.50" y="291.40" font-size="8.15" text-anchor="start" >0 Units</text>
<rect x="300.9" y="305.00" width="3.3" height="9.5" fill="#8e8e8e"/>
<text x="310.50" y="311.10" font-size="8.15" text-anchor="start" >25 Units</text>
<rect x="300.9" y="323.50" width="3.3" height="9.5" fill="#2a2a2a"/>
<text x="310.50" y="329.60" font-size="8.15" text-anchor="start" >50 Units</text>
<rect x="300.9" y="341.80" width="3.3" height="9.5" fill="#4a4a4a"/>
<text x="310.50" y="349.20" font-size="8.15" text-anchor="start" >100 Units</text>
<rect x="300.9" y="361.00" width="3.3" height="9.5" fill="#888"/>
<text x="310.50" y="367.50" font-size="8.15" text-anchor="start" >250 Units</text>
<rect x="300.9" y="378.00" width="3.3" height="9.5" fill="#bbb"/>
<text x="310.50" y="383.90" font-size="8.15" text-anchor="start" >500 Units</text>
</g>
<g id="panel-e">
<text x="370.80" y="232.20" font-size="16.2" text-anchor="start" >e</text>
<line x1="403.20" y1="248.40" x2="403.20" y2="386.50" stroke="#8a8a8a" stroke-width="1" />
<line x1="402.70" y1="386.00" x2="538.70" y2="386.00" stroke="#8a8a8a" stroke-width="1" />
<line x1="400.60" y1="249.00" x2="403.20" y2="249.00" stroke="#8a8a8a" stroke-width="1" />
<line x1="400.60" y1="316.60" x2="403.20" y2="316.60" stroke="#8a8a8a" stroke-width="1" />
<line x1="400.60" y1="385.60" x2="403.20" y2="385.60" stroke="#8a8a8a" stroke-width="1" />
<text x="400.30" y="253.20" font-size="10.8" text-anchor="end" >10</text>
<text x="400.30" y="320.70" font-size="10.8" text-anchor="end" >1</text>
<text x="400.30" y="386.90" font-size="10.8" text-anchor="end" >0.1</text>
<line x1="403.20" y1="386.00" x2="403.20" y2="388.80" stroke="#8a8a8a" stroke-width="1" />
<text x="404.00" y="401.20" font-size="11" text-anchor="middle" >0</text>
<line x1="430.20" y1="386.00" x2="430.20" y2="388.80" stroke="#8a8a8a" stroke-width="1" />
<text x="431.00" y="401.20" font-size="11" text-anchor="middle" >100</text>
<line x1="457.20" y1="386.00" x2="457.20" y2="388.80" stroke="#8a8a8a" stroke-width="1" />
<text x="458.00" y="401.20" font-size="11" text-anchor="middle" >200</text>
<line x1="484.20" y1="386.00" x2="484.20" y2="388.80" stroke="#8a8a8a" stroke-width="1" />
<text x="485.00" y="401.20" font-size="11" text-anchor="middle" >300</text>
<line x1="511.20" y1="386.00" x2="511.20" y2="388.80" stroke="#8a8a8a" stroke-width="1" />
<text x="512.00" y="401.20" font-size="11" text-anchor="middle" >400</text>
<line x1="538.20" y1="386.00" x2="538.20" y2="388.80" stroke="#8a8a8a" stroke-width="1" />
<text x="539.00" y="401.20" font-size="11" text-anchor="middle" >500</text>
<text x="466.20" y="415.60" font-size="10.3" text-anchor="middle" >Microc. Nuclease resistance (AUC)</text>
<text transform="translate(382.60,315.20) rotate(-90)" font-size="13" text-anchor="middle" >%TM/chromatid (day 7)</text>
<text x="479.20" y="288.60" font-size="10.4" text-anchor="middle" >r = -0.87; p=2x10-3</text>
<line x1="409.50" y1="303.40" x2="511.60" y2="384.00" stroke="#808080" stroke-width="1.15" />
<ellipse cx="409.50" cy="293.60" rx="2.7" ry="4.1" fill="#7a7a7a" stroke="#222" stroke-width="1.1"/>
<ellipse cx="417.30" cy="317.00" rx="2.7" ry="4.1" fill="#8a8a8a" stroke="#222" stroke-width="1.1"/>
<ellipse cx="419.50" cy="310.00" rx="2.7" ry="4.1" fill="#999" stroke="#222" stroke-width="1.1"/>
<ellipse cx="431.80" cy="306.40" rx="2.7" ry="4.1" fill="#888" stroke="#222" stroke-width="1.1"/>
<ellipse cx="446.80" cy="338.20" rx="2.7" ry="4.1" fill="#333" stroke="#222" stroke-width="1.1"/>
<ellipse cx="454.20" cy="346.80" rx="2.7" ry="4.1" fill="#8a8a8a" stroke="#222" stroke-width="1.1"/>
<ellipse cx="470.00" cy="368.20" rx="2.7" ry="4.1" fill="#2a2a2a" stroke="#222" stroke-width="1.1"/>
<ellipse cx="479.80" cy="340.00" rx="2.7" ry="4.1" fill="#888" stroke="#222" stroke-width="1.1"/>
<ellipse cx="494.00" cy="384.60" rx="2.7" ry="4.1" fill="#333" stroke="#222" stroke-width="1.1"/>
<ellipse cx="514.40" cy="367.20" rx="2.7" ry="4.1" fill="#8a8a8a" stroke="#222" stroke-width="1.1"/>
</g>
</svg></body></html>
